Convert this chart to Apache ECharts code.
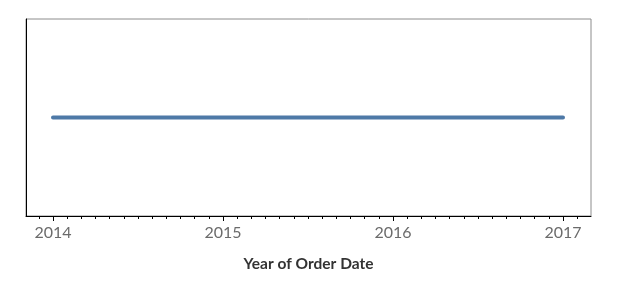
<!DOCTYPE html>
<html><head><meta charset="utf-8">
<script src="https://cdn.jsdelivr.net/npm/echarts@6/dist/echarts.min.js"></script>
<style>html,body{margin:0;padding:0;background:#fff}#c{width:630px;height:290px}</style>
</head><body><div id="c"></div>
<script>
const years = [2014, 2015, 2016, 2017];
const values = [1, 1, 1, 1];
const yearLabels = ['2014', '2015', '2016', '2017'];
const axisTitle = 'Year of Order Date';

const xMin = 2014 - 27 / 170, xMax = 2017 + 28 / 170;
const monthTicks = [];
for (let y = 2013; y <= 2017; y++) for (let m = 0; m < 12; m++) {
  const v = y + m / 12;
  if (v > xMin && v < xMax && m !== 0) monthTicks.push(v);
}

const chart = echarts.init(document.getElementById('c'), null, {renderer: 'canvas'});
chart.setOption({
  animation: false,
  grid: {left: 26, top: 19, right: 39, bottom: 74, show: true, borderColor: '#8c8c8c', borderWidth: 1, backgroundColor: 'transparent'},
  xAxis: [{
    type: 'value', min: xMin, max: xMax,
    name: axisTitle, nameLocation: 'middle', nameGap: 40,
    nameTextStyle: {color: '#333', fontSize: 15.5, fontFamily: 'Lato', fontWeight: 'bold'},
    axisLine: {show: true, lineStyle: {color: '#000', width: 1}},
    axisTick: {show: true, length: 5, lineStyle: {color: '#000'}, customValues: years},
    axisLabel: {color: '#6b6b6b', fontSize: 16, fontFamily: 'Lato', margin: 9, customValues: years,
      formatter: v => yearLabels[years.indexOf(Math.round(v))] || ''},
    splitLine: {show: false}
  }, {
    type: 'value', min: xMin, max: xMax, position: 'bottom',
    axisLine: {show: false},
    axisTick: {show: true, length: 3, lineStyle: {color: '#000'}, customValues: monthTicks},
    axisLabel: {show: false},
    splitLine: {show: false}
  }],
  yAxis: {
    type: 'value', min: 0, max: 2,
    axisLine: {show: true, lineStyle: {color: '#000'}},
    axisTick: {show: false}, axisLabel: {show: false}, splitLine: {show: false}
  },
  series: [{
    type: 'line', xAxisIndex: 0,
    data: years.map((y, i) => [y, values[i]]),
    symbol: 'none',
    lineStyle: {color: '#4e79a7', width: 4, cap: 'round'}
  }]
});
</script></body></html>
